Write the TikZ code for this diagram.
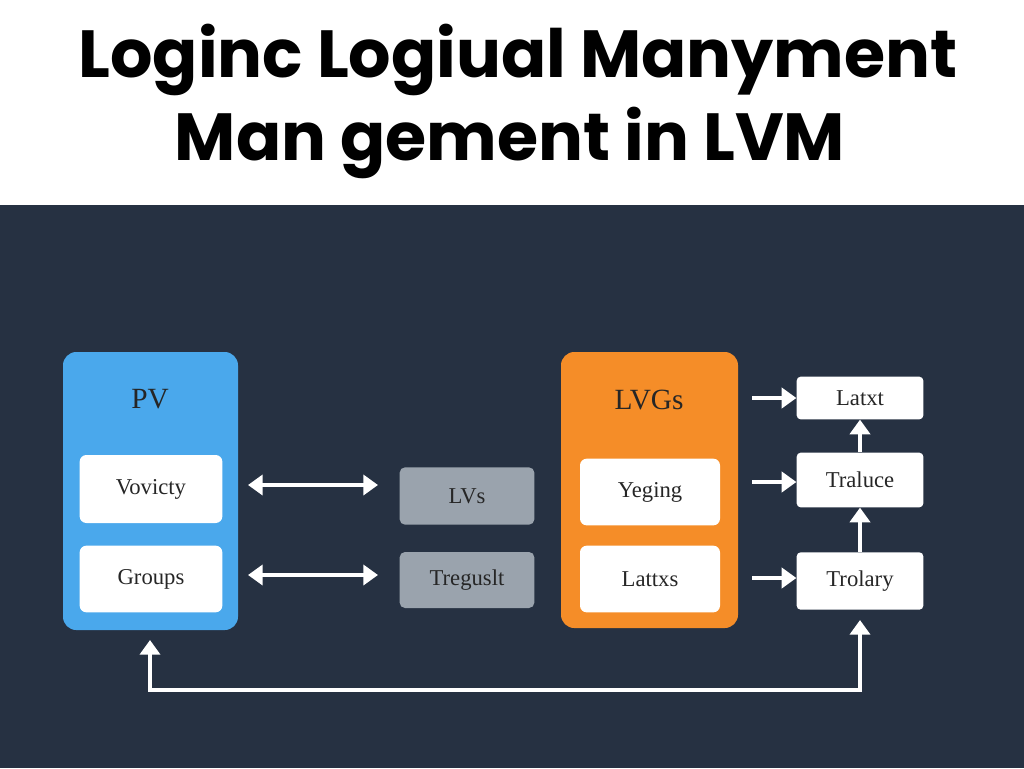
\documentclass[tikz,border=0pt]{standalone}
\usepackage{fontspec}
\setmainfont{Liberation Serif}
\newfontfamily\titlef{Poppins}
\usetikzlibrary{arrows.meta}
\definecolor{bg}{HTML}{263142}
\definecolor{pvblue}{HTML}{4AA8EC}
\definecolor{lvor}{HTML}{F58D28}
\definecolor{lvgray}{HTML}{9AA3AD}
\begin{document}
\begin{tikzpicture}[x=0.75pt,y=-0.75pt,
  wbox/.style={fill=white,rounded corners=5pt,font=\fontsize{17}{20}\selectfont,text=black!85},
  gbox/.style={fill=lvgray,rounded corners=4pt,font=\fontsize{17}{20}\selectfont,text=black!85},
  arr/.style={draw=white,line width=3.5pt,-{Triangle[length=11pt,width=15pt]}},
  darr/.style={draw=white,line width=3.5pt,{Triangle[length=11pt,width=15pt]}-{Triangle[length=11pt,width=15pt]}}]
\useasboundingbox (0,0) rectangle (1024,768);
\fill[white] (0,0) rectangle (1024,205);
\fill[bg] (0,205) rectangle (1024,768);
\node[font=\titlef\bfseries\fontsize{50}{54}\selectfont] (t1) at (518,60) {Loginc Logiual Manyment};
\node[font=\titlef\bfseries\fontsize{50}{54}\selectfont] (t2) at (510,143) {Man gement in LVM};
% big boxes
\fill[pvblue,rounded corners=10pt] (63,352) rectangle (238,630);
\node[font=\fontsize{22}{26}\selectfont,text=black!85] (pv) at (150,399) {PV};
\fill[lvor,rounded corners=10pt] (561,352) rectangle (738,628);
\node[font=\fontsize{22}{26}\selectfont,text=black!85] (lvg) at (649,400) {LVGs};
% inner boxes
\node[wbox,minimum width=107pt,minimum height=51pt] (vov) at (151,489) {Vovicty};
\node[wbox,minimum width=107pt,minimum height=50pt] (grp) at (151,579) {Groups};
\node[gbox,minimum width=101pt,minimum height=43pt] (lvs) at (467,496) {LVs};
\node[gbox,minimum width=101pt,minimum height=42pt] (treg) at (467,580) {Treguslt};
\node[wbox,minimum width=105pt,minimum height=50pt] (yeg) at (650,492) {Yeging};
\node[wbox,minimum width=105pt,minimum height=50pt] (latt) at (650,579) {Lattxs};
\node[wbox,rounded corners=3pt,minimum width=95pt,minimum height=32pt] (latxt) at (860,398) {Latxt};
\node[wbox,rounded corners=3pt,minimum width=95pt,minimum height=41pt] (tral) at (860,480) {Traluce};
\node[wbox,rounded corners=3pt,minimum width=95pt,minimum height=43pt] (trol) at (860,581) {Trolary};
% connectors
\coordinate (a1) at (248,485); \coordinate (b1) at (378,485);
\coordinate (a2) at (248,575); \coordinate (b2) at (378,575);
\draw[darr] (a1) -- (b1);
\draw[darr] (a2) -- (b2);
\coordinate (r1) at (752,398); \coordinate (r2) at (752,482); \coordinate (r3) at (752,578);
\draw[arr] (r1) -- (r1 -| latxt.west);
\draw[arr] (r2) -- (r2 -| tral.west);
\draw[arr] (r3) -- (r3 -| trol.west);
\draw[arr] (tral.north) -- (latxt.south);
\draw[arr] (trol.north) -- (tral.south);
\coordinate (p1) at (150,640);
\coordinate (p2) at (150,690);
\coordinate (p3) at (860,690);
\coordinate (p4) at (860,620);
\draw[darr] (p1) -- (p2) -- (p3) -- (p4);
\end{tikzpicture}
\end{document}
